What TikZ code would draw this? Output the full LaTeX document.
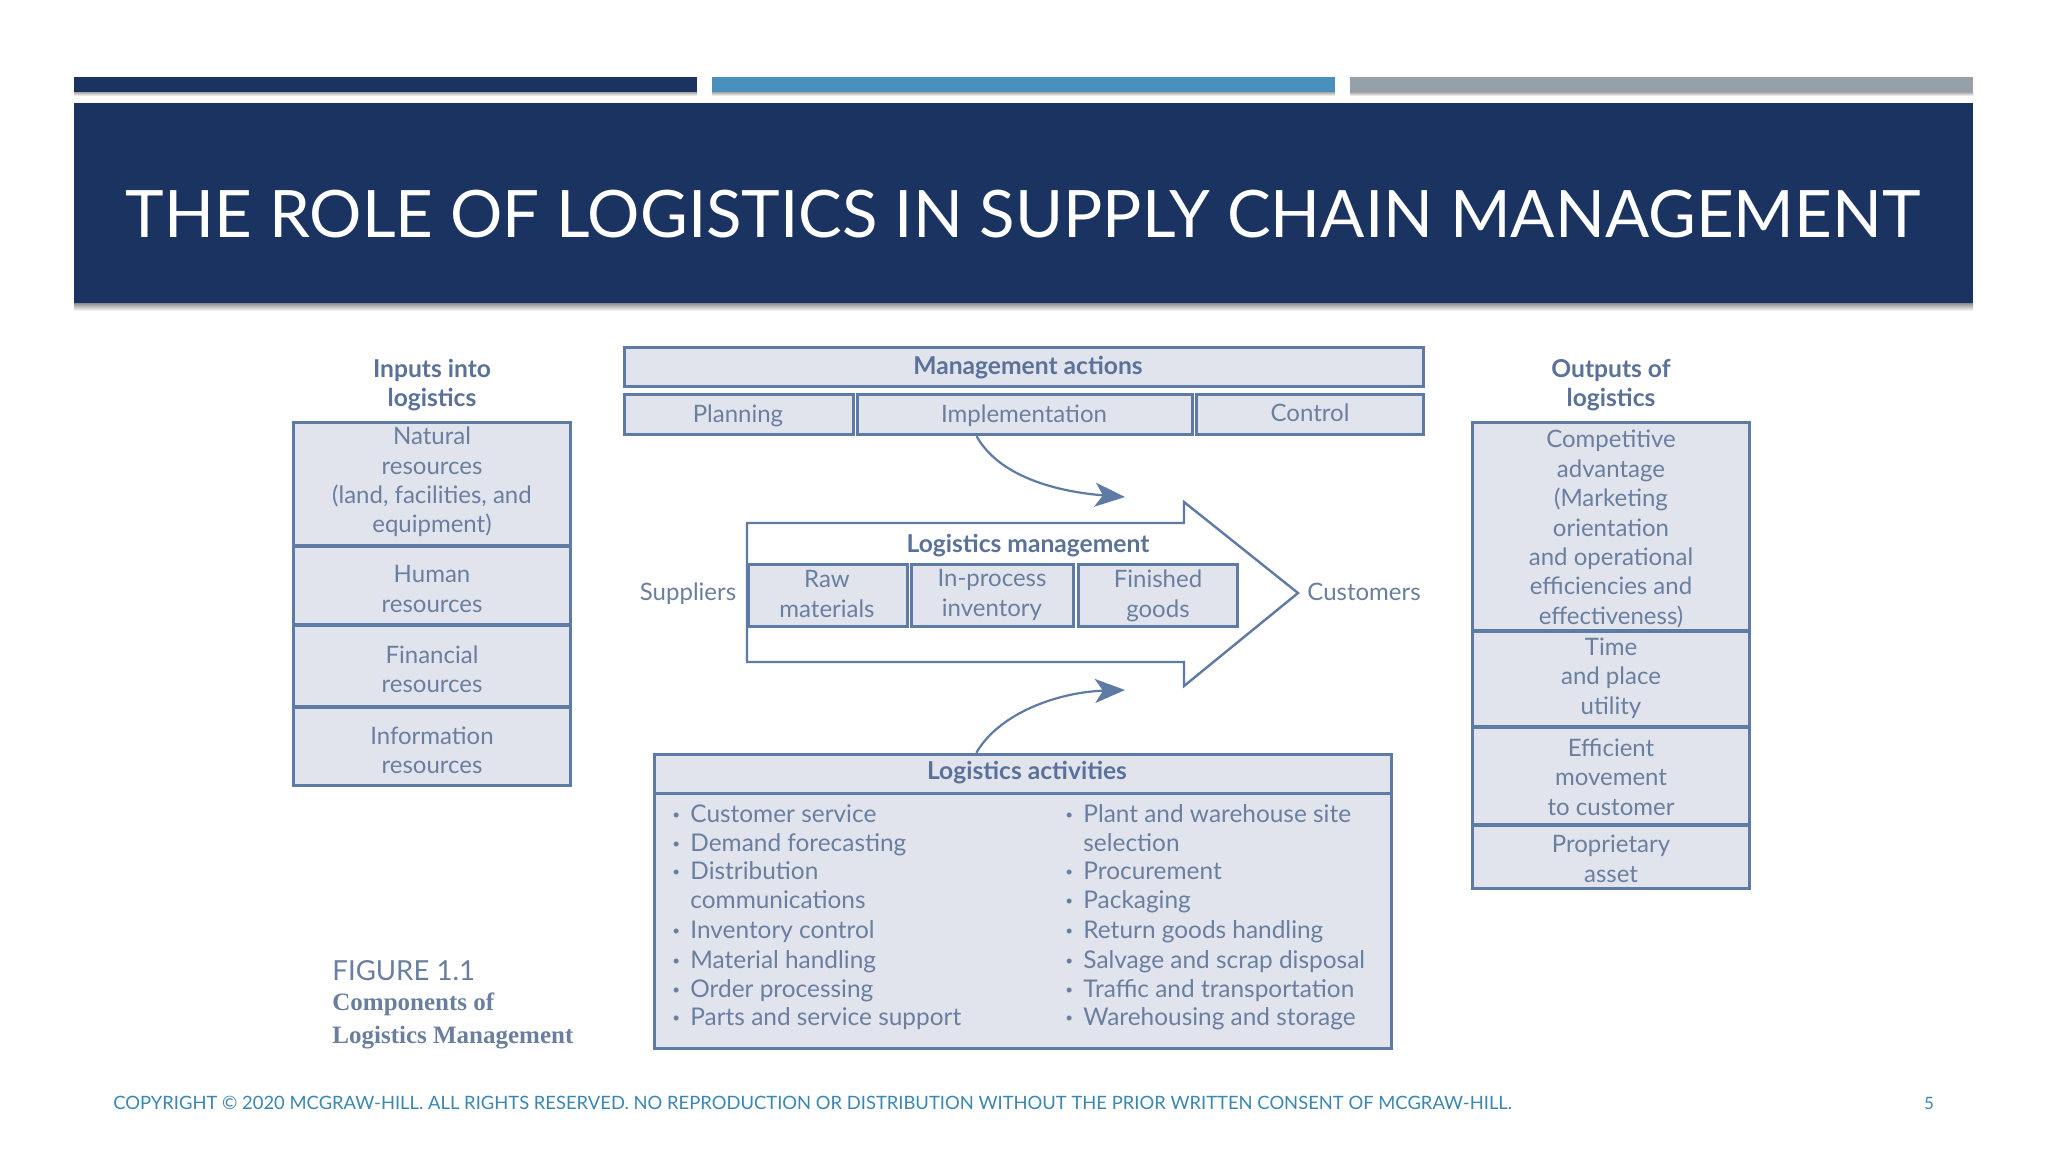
\documentclass[tikz,border=0pt]{standalone}
\usepackage{fontspec}
\usepackage{graphicx}
\setmainfont{Lato}
\newfontfamily\serifcap{Liberation Serif}
\usetikzlibrary{arrows.meta,calc}
\definecolor{navy}{HTML}{1B3360}
\definecolor{barblue}{HTML}{4A90BC}
\definecolor{bargray}{HTML}{96A0A8}
\definecolor{boxfill}{HTML}{E1E4EC}
\definecolor{boxline}{HTML}{5E7BA5}
\definecolor{txt}{HTML}{6A7FA0}
\definecolor{txtb}{HTML}{5A7299}
\definecolor{foot}{HTML}{3A86B4}
\tikzset{
  box/.style={draw=boxline,fill=boxfill,line width=1.75pt,inner sep=0pt,rectangle},
  lbl/.style={text=txt,align=center,inner sep=0pt,font=\fontsize{12}{14.7}\selectfont},
  hdr/.style={text=txtb,align=center,inner sep=0pt,font=\bfseries\fontsize{12.3}{14.7}\selectfont},
  item/.style={text=txt,inner sep=0pt,anchor=base west,font=\fontsize{12.2}{14}\selectfont},
  conn/.style={draw=boxline,line width=1.1pt,-{Stealth[length=15pt,width=12pt,inset=4pt,fill=boxline]}},
  bigarrow/.style={draw=boxline,fill=white,line width=1.2pt,line join=miter},
  capt/.style={text=txt,inner sep=0pt,anchor=base west}
}
\newcommand{\bx}[5]{%
  \pgfmathsetmacro{\bxw}{(#4-#2-3)*0.5}%
  \pgfmathsetmacro{\bxh}{(#5-#3-3)*0.5}%
  \node[box,minimum width=\bxw pt,minimum height=\bxh pt] (#1) at ({(#2+#4)/2},{(#3+#5)/2}) {};}
\newcommand{\bul}{\makebox[9pt][l]{\raisebox{1.5pt}{\scalebox{.55}{•}}}}
\newcommand{\nob}{\makebox[9pt][l]{}}
\begin{document}
\begin{tikzpicture}[x=0.5pt,y=-0.5pt]
\useasboundingbox (0,0) rectangle (2048,1152);
\fill[white] (0,0) rectangle (2048,1152);
% header
\shade[top color=black!45,bottom color=white] (74,303) rectangle (1973,311);
\shade[top color=black!35,bottom color=white] (74,92) rectangle (697,96);
\shade[top color=black!35,bottom color=white] (712,92) rectangle (1335,96);
\shade[top color=black!35,bottom color=white] (1350,92) rectangle (1973,96);
\fill[navy] (74,77) rectangle (697,92);
\fill[barblue] (712,77) rectangle (1335,92);
\fill[bargray] (1350,77) rectangle (1973,92);
\fill[navy] (74,103) rectangle (1973,303);
\node[text=white,inner sep=0pt,anchor=base] (title) at (1023,237)
  {\resizebox{897pt}{!}{\fontsize{33}{36}\selectfont THE ROLE OF LOGISTICS IN SUPPLY CHAIN MANAGEMENT}};
% inputs
\node[hdr] (inhdr) at (432,385) {Inputs into\\logistics};
\bx{inA}{292}{421}{572}{547}
\bx{inB}{292}{545}{572}{626}
\bx{inC}{292}{624}{572}{708}
\bx{inD}{292}{706}{572}{787}
\node[lbl] (inAt) at (432,482) {Natural\\resources\\(land, facilities, and\\equipment)};
\node[lbl] (inBt) at (432,589) {Human\\resources};
\node[lbl] (inCt) at (432,669) {Financial\\resources};
\node[lbl] (inDt) at (432,750) {Information\\resources};
% management actions
\bx{mgmt}{623}{346}{1425}{388}
\node[hdr] (mgmtt) at (1028,368) {Management actions};
\bx{plan}{623}{393}{855}{436}
\bx{impl}{856}{393}{1194}{436}
\bx{ctrl}{1195}{393}{1425}{436}
\node[lbl] (plant) at (738,416) {Planning};
\node[lbl] (implt) at (1024,416) {Implementation};
\node[lbl] (ctrlt) at (1310,413) {Control};
% big arrow
\coordinate (aTL) at (747,523);
\coordinate (aTR) at (1184,523);
\coordinate (aHT) at (1184,502);
\coordinate (aTip) at (1298,593);
\coordinate (aHB) at (1184,686);
\coordinate (aBR) at (1184,662);
\coordinate (aBL) at (747,662);
\draw[bigarrow] (aTL) -- (aTR) -- (aHT) -- (aTip) -- (aHB) -- (aBR) -- (aBL) -- cycle;
\node[hdr] (lmt) at (1028,546) {Logistics management};
\bx{raw}{747}{563}{909}{628}
\bx{wip}{910}{563}{1075}{628}
\bx{fin}{1077}{563}{1239}{628}
\node[lbl] (rawt) at (827,594) {Raw\\materials};
\node[lbl] (wipt) at (992,595) {In-process\\inventory};
\node[lbl] (fint) at (1158,596) {Finished\\goods};
\node[lbl] (sup) at (688,594) {Suppliers};
\node[lbl] (cus) at (1364,592) {Customers};
% activities
\bx{acth}{653}{753}{1393}{795}
\node[hdr] (actt) at (1027,773) {Logistics activities};
\bx{actb}{653}{792}{1393}{1050}
\foreach \n/\y/\t in {a1/822/{\bul Customer service},a2/851/{\bul Demand forecasting},a3/879/{\bul Distribution},a4/908/{\nob communications},a5/938/{\bul Inventory control},a6/968/{\bul Material handling},a7/997/{\bul Order processing},a8/1025/{\bul Parts and service support}}
  \node[item] (\n) at (672,\y) {\t};
\foreach \n/\y/\t in {b1/822/{\bul Plant and warehouse site},b2/851/{\nob selection},b3/879/{\bul Procurement},b4/908/{\bul Packaging},b5/938/{\bul Return goods handling},b6/968/{\bul Salvage and scrap disposal},b7/997/{\bul Traffic and transportation},b8/1025/{\bul Warehousing and storage}}
  \node[item] (\n) at (1065,\y) {\t};
% connectors
\coordinate (implOut) at ($(impl.south west)!0.357!(impl.south east)$);
\coordinate (tipA) at (1125,497);
\draw[conn] (implOut) .. controls (1000,478) and (1060,492) .. (tipA);
\coordinate (actOut) at ($(acth.north west)!0.437!(acth.north east)$);
\coordinate (tipB) at (1125,690);
\draw[conn] (actOut) .. controls (1000,712) and (1060,692) .. (tipB);
% outputs
\node[hdr] (outhdr) at (1611,385) {Outputs of\\logistics};
\bx{ouA}{1471}{421}{1751}{632}
\bx{ouB}{1471}{630}{1751}{728}
\bx{ouC}{1471}{726}{1751}{826}
\bx{ouD}{1471}{824}{1751}{890}
\node[lbl] (ouAt) at (1611,529) {Competitive\\advantage\\(Marketing\\orientation\\and operational\\efficiencies and\\effectiveness)};
\node[lbl] (ouBt) at (1611,678) {Time\\and place\\utility};
\node[lbl] (ouCt) at (1611,777) {Efficient\\movement\\to customer};
\node[lbl] (ouDt) at (1611,859) {Proprietary\\asset};
% caption
\node[capt,font=\fontsize{13.8}{16}\selectfont] (fig) at (332,980) {FIGURE 1.1};
\node[capt,font=\serifcap\bfseries\fontsize{12.5}{14}\selectfont] (cap1) at (332,1010) {Components of};
\node[capt,font=\serifcap\bfseries\fontsize{12.5}{14}\selectfont] (cap2) at (332,1043) {Logistics Management};
% footer
\node[text=foot,inner sep=0pt,anchor=base west] (foot) at (113,1109)
  {\resizebox{699pt}{!}{\fontsize{9}{10}\selectfont COPYRIGHT © 2020 MCGRAW-HILL. ALL RIGHTS RESERVED. NO REPRODUCTION OR DISTRIBUTION WITHOUT THE PRIOR WRITTEN CONSENT OF MCGRAW-HILL.}};
\node[text=foot,inner sep=0pt,anchor=base,font=\fontsize{8.5}{10}\selectfont] (pg) at (1929,1109) {5};
\end{tikzpicture}
\end{document}
